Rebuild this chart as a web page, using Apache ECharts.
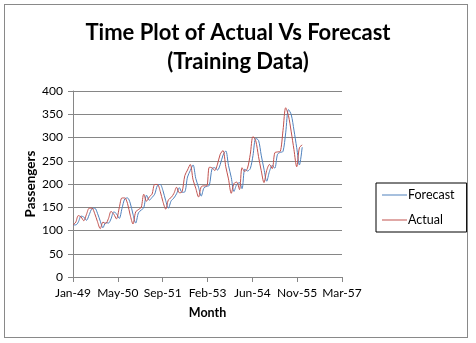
<!DOCTYPE html>
<html>
<head>
<meta charset="utf-8">
<script src="https://cdn.jsdelivr.net/npm/echarts@6/dist/echarts.min.js"></script>
<style>
html,body{margin:0;padding:0;background:#fff;}
#frame{position:absolute;left:4px;top:4px;width:464px;height:334px;border:1px solid #898989;box-sizing:border-box;}
#chart{position:absolute;left:0;top:0;width:476px;height:343px;}
</style>
</head>
<body>
<div id="frame"></div>
<div id="chart"></div>
<script>
// Monthly series, Jan-49 .. Jan-56
const startYear = 1949;
const actual = [
  112,118,132,129,121,135,148,148,136,119,104,118,
  115,126,141,135,125,149,170,170,158,133,114,140,
  145,150,178,163,172,178,199,199,184,162,146,166,
  171,180,193,181,183,218,230,242,209,191,172,194,
  196,196,236,235,229,243,264,272,237,211,180,201,
  204,188,235,227,234,264,302,293,259,229,203,229,
  242,233,267,269,270,315,364,347,312,274,237,278,
  284
];
const forecast = [
  112,112,118,131,129,122,134,147,148,137,120,106,
  117,116,125,140,136,126,147,168,170,159,135,116,
  138,144,149,176,165,171,178,197,199,186,164,148,
  164,170,179,192,182,183,215,229,241,212,193,174,
  192,195,197,233,235,230,242,262,271,240,214,184,
  199,203,190,232,228,233,261,298,294,262,232,206,
  227,240,234,264,268,270,310,360,349,316,278,241,
  279
];
const xTickLabels = ["Jan-49","May-50","Sep-51","Feb-53","Jun-54","Nov-55","Mar-57"];
const yTicks = [0,50,100,150,200,250,300,350,400];

const DAY = 86400000;
const base = Date.UTC(startYear,0,1);
function dayOf(i){ return (Date.UTC(startYear, i, 1) - base)/DAY; }
const actualData = actual.map((v,i)=>[dayOf(i), v]);
const forecastData = forecast.map((v,i)=>[dayOf(i), v]);

const font = 'Lato, "Open Sans", sans-serif';
const chart = echarts.init(document.getElementById('chart'), null, {renderer:'canvas'});
chart.setOption({
  animation:false,
  backgroundColor:'transparent',
  title:{
    text:'Time Plot of Actual Vs Forecast\n(Training Data)',
    left:'center', top:18, padding:0,
    textStyle:{fontFamily:font, fontSize:22, fontWeight:'bold', color:'#000', lineHeight:29}
  },
  legend:{
    orient:'vertical', left:376, top:183,
    padding:[5,12,5,6], itemGap:11,
    borderColor:'#000', borderWidth:1,
    icon:'rect', itemWidth:25, itemHeight:1,
    textStyle:{fontFamily:font, fontSize:12.5, color:'#000', padding:[0,0,0,-4], lineHeight:14},
    data:['Forecast','Actual']
  },
  grid:{left:73, right:134, top:91, bottom:66, containLabel:false},
  xAxis:{
    type:'value', min:0, max:3000, interval:500,
    name:'Month', nameLocation:'middle', nameGap:29, nameMoveOverlap:false,
    nameTextStyle:{fontFamily:font, fontSize:12.5, fontWeight:'bold', color:'#000'},
    axisLine:{lineStyle:{color:'#868686'}},
    axisTick:{show:true, length:5, lineStyle:{color:'#868686'}},
    axisLabel:{fontFamily:font, fontSize:12, color:'#000', margin:10,
      formatter:(v)=>xTickLabels[Math.round(v/500)] || ''},
    splitLine:{show:false}
  },
  yAxis:{
    type:'value', min:yTicks[0], max:yTicks[yTicks.length-1], interval:50,
    name:'Passengers', nameLocation:'middle', nameGap:42, nameMoveOverlap:false,
    nameTextStyle:{fontFamily:font, fontSize:13.5, fontWeight:'bold', color:'#000', verticalAlign:'middle'},
    axisLine:{show:true, lineStyle:{color:'#868686'}},
    axisTick:{show:true, length:5, lineStyle:{color:'#868686'}},
    axisLabel:{fontFamily:font, fontSize:12, color:'#000', margin:10},
    splitLine:{lineStyle:{color:'#868686', width:1}}
  },
  series:[
    {name:'Forecast', type:'line', data:forecastData, smooth:0.3, symbol:'none',
     lineStyle:{color:'#4F81BD', width:1}, itemStyle:{color:'#4F81BD'}},
    {name:'Actual', type:'line', data:actualData, smooth:0.3, symbol:'none',
     lineStyle:{color:'#C0504D', width:1}, itemStyle:{color:'#C0504D'}}
  ]
});
</script>
</body>
</html>
